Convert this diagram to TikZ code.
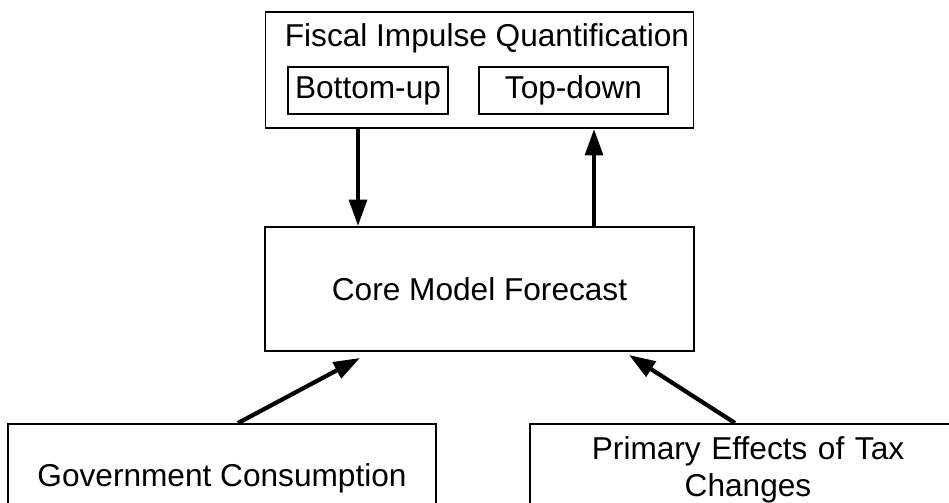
\documentclass[tikz,border=0pt]{standalone}
\usepackage{fontspec}
\setmainfont{Liberation Sans}
\usepackage{tikz}
\usetikzlibrary{arrows.meta, positioning, calc}

\begin{document}
\begin{tikzpicture}[x=0.02cm, y=-0.02cm, >={Triangle[length=15pt, width=10pt]},
    box/.style={draw, line width=1.1pt, rectangle, inner sep=0pt, font=\fontsize{18}{21}\selectfont},
    flow/.style={->, line width=2.4pt}]
    \useasboundingbox (0,0) rectangle (949,503);

    \node[box, minimum width=428*0.02cm, minimum height=116*0.02cm] (fiq) at (479.5,70) {};
    \node[anchor=base, inner sep=0pt, font=\fontsize{18}{21}\selectfont] (fiqtitle) at (487,47) {Fiscal Impulse Quantification};
    \node[box, minimum width=160*0.02cm, minimum height=47*0.02cm] (bottomup) at (368,90.5) {Bottom-up};
    \node[box, minimum width=189*0.02cm, minimum height=47*0.02cm] (topdown) at (573.5,90.5) {Top-down};

    \node[box, minimum width=429*0.02cm, minimum height=124*0.02cm] (core) at (479.5,289) {Core Model Forecast};

    \node[box, minimum width=428*0.02cm, minimum height=108*0.02cm] (govcons) at (222,478) {Government Consumption};
    \node[box, minimum width=436*0.02cm, minimum height=92*0.02cm, text width=420*0.02cm, align=center] (taxchg) at (748,470) {Primary Effects of Tax\\Changes};

    \draw[flow] ($(fiq.south)+(-121.5,0)$) -- ($(core.north)+(-121.5,0)$);
    \draw[flow] ($(core.north)+(114.5,0)$) -- ($(fiq.south)+(114.5,0)$);
    \draw[flow] ($(govcons.north)+(16,0)$) -- ($(core.south)+(-119.5,6)$);
    \draw[flow] ($(taxchg.north)+(-13,0)$) -- ($(core.south)+(149.5,3)$);
\end{tikzpicture}
\end{document}
